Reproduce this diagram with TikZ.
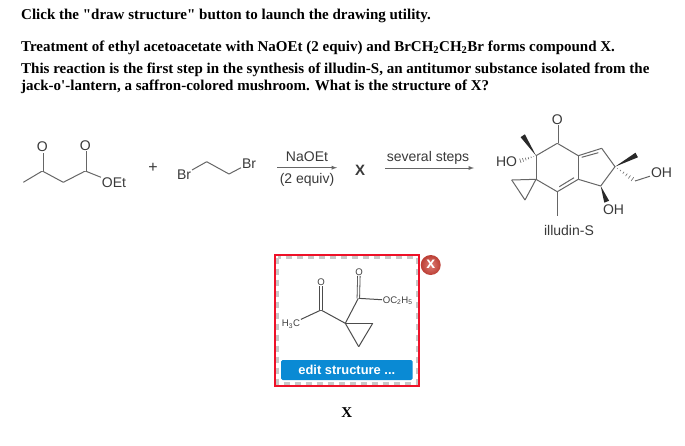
\documentclass[tikz,border=0pt]{standalone}
\usepackage{fontspec}
\setmainfont{Liberation Serif}[Ligatures=TeXOff]
\setsansfont{Liberation Sans}
\usetikzlibrary{calc}
\definecolor{bondGray}{HTML}{666666}
\definecolor{labelGray}{HTML}{3A3A3A}
\definecolor{boxRed}{HTML}{EE1128}
\definecolor{dashGray}{HTML}{C8C8C8}
\definecolor{buttonBlue}{HTML}{0A8AD4}
\definecolor{closeRed}{HTML}{D0453A}
\newcommand{\wedgebond}[2]{%
  \fill[bondGray!40!black] (#1) -- ($(#2)!2.6pt!90:(#1)$) -- ($(#2)!2.6pt!-90:(#1)$) -- cycle;}
\newcommand{\hashbond}[2]{%
  \foreach \t in {0.12,0.27,0.42,0.57,0.72,0.87,1.0}
  {
    \pgfmathsetmacro{\w}{\t*2.6}
    \draw[bondGray,line width=0.6pt] ($(#1)!\t!(#2)!\w pt!90:(#2)$) -- ($(#1)!\t!(#2)!\w pt!-90:(#2)$);
  };}
\begin{document}
\begin{tikzpicture}
[x=1pt,y=-1pt,
  lineDecorate/.style={-,bondGray,line width=1pt},%
  doubleDecorate/.style={-,bondGray,line width=0.8pt,double=white,double distance=1.7pt},%
  darkDecorate/.style={-,black!70,line width=1pt},%
  darkDouble/.style={-,black!70,line width=0.8pt,double=white,double distance=1.7pt},%
  questionText/.style={font=\rmfamily\bfseries\fontsize{15}{16}\selectfont,anchor=base west,inner sep=0pt,black},%
  atomLabel/.style={font=\sffamily\fontsize{14}{15}\selectfont,text=labelGray,inner sep=0.8pt},%
  smallLabel/.style={font=\sffamily\fontsize{9.6}{10}\selectfont,text=black!75,inner sep=0.6pt},%
  reactArrow/.style={-latex,bondGray,line width=0.9pt}]
\useasboundingbox (0,0) rectangle (685,445);
\fill[white] (0,0) rectangle (685,445);
%% question text
\node (line1) at (21,19) [questionText] {Click the "draw structure" button to launch the drawing utility.};
\node (line2) at (21,51.5) [questionText] {Treatment of ethyl acetoacetate with NaOEt (2 equiv) and BrCH\textsubscript{2}CH\textsubscript{2}Br forms compound X.};
\node (line3) at (21,73) [questionText] {This reaction is the first step in the synthesis of illudin-S, an antitumor substance isolated from the};
\node (line4) at (21,90) [questionText] {jack-o'-lantern, a saffron-colored mushroom. What is the structure of X?};
%% atoms of the ester, the dibromide and illudin-S
\foreach \nodename/\x/\y in {a1/23.3/182.3, a2/42.3/171, a4/63.3/182.3, a5/85.3/171,
  b2/206.7/161.7, b3/229/174,
  c1/557.3/143.3, c2/536/155.7, c3/536/179.3, c4/557.3/191.7, c5/578.3/179.3, c6/578.3/155.7,
  c7/601.7/148.3, c8/615/166.7, c9/600.7/186, c10/522.7/135.7, c11/511.7/180, c12/525/200,
  c13/557.3/215.7, c14/636.7/155, c15/635/181, c16/606.7/201.7,
  d1/581.7/157.3, d2/598.3/152.7, d3/559.3/186.7, d4/574/177.7}
{
  \coordinate (\nodename) at (\x,\y);
}
%% labels
\node (a3) at (42.3,147) [atomLabel] {O};
\node (a6) at (85.3,145.5) [atomLabel] {O};
\node (a7) at (114,182.5) [atomLabel] {OEt};
\node (plus) at (153,167.5) [atomLabel,font=\sffamily\fontsize{16}{16}\selectfont] {+};
\node (b1) at (184,174.5) [atomLabel] {Br};
\node (b4) at (249,163.5) [atomLabel] {Br};
\node (naoet) at (307,157) [atomLabel] {NaOEt};
\node (equiv) at (307,180) [atomLabel] {(2 equiv)};
\node (prod) at (360,170) [atomLabel,font=\sffamily\bfseries\fontsize{15}{16}\selectfont] {X};
\node (steps) at (428,157.5) [atomLabel] {several steps};
\node (c17) at (557.3,119.5) [atomLabel] {O};
\node (c18) at (506.5,161.5) [atomLabel] {HO};
\node (c19) at (661.5,172.5) [atomLabel] {OH};
\node (c20) at (613.5,210) [atomLabel] {OH};
\node (name) at (569,230.5) [atomLabel] {illudin-S};
%% arrows
\coordinate (r1) at (277,167.7);
\coordinate (r2) at (337,167.7);
\coordinate (s1) at (385,168);
\coordinate (s2) at (474,168);
\draw[reactArrow] (r1) -- (r2);
\draw[reactArrow] (s1) -- (s2);
%% bonds
\path
\foreach \startnode/\endnode in {
  a1/a2, a2/a4, a4/a5, a5/a7, b1/b2, b2/b3, b3/b4,
  c1/c2, c2/c3, c3/c4, c5/c6, c6/c1, c6/c7, c7/c8, c8/c9, c9/c5, c3/c11, c11/c12, c12/c3,
  c4/c5, c4/c13, c15/c19, d1/d2, d3/d4}
{
  (\startnode) edge[lineDecorate] node {} (\endnode)
};
\path
\foreach \startnode/\endnode in {a2/a3, a5/a6, c1/c17}
{
  (\startnode) edge[doubleDecorate] node {} (\endnode)
};
\wedgebond{c2}{c10}
\wedgebond{c8}{c14}
\wedgebond{c9}{c16}
\hashbond{c8}{c15}
\hashbond{c2}{c18.east}
%% answer box
\coordinate (box1) at (274.7,254.7);
\coordinate (box2) at (419.3,386);
\draw[dashGray,line width=2.4pt,dash pattern=on 6pt off 5pt] (277.5,257.5) rectangle (417,383.5);
\draw[boxRed,line width=2pt] (box1) rectangle (box2);
\node (edit) at (346.8,370) [fill=buttonBlue,rounded corners=1.5pt,minimum width=131.5pt,minimum height=20pt,inner sep=0pt,text=white,font=\sffamily\bfseries\fontsize{12.9}{14}\selectfont] {edit structure ...};
\shade[inner color=closeRed!70!white,outer color=closeRed!90!black] (430.7,265) circle (10pt);
\node (close) at (430.7,264) [inner sep=0pt,text=white,font=\sffamily\bfseries\fontsize{16}{16}\selectfont] {x};
\node (xlabel) at (346.7,412.5) [inner sep=0pt,font=\rmfamily\bfseries\fontsize{15}{16}\selectfont] {X};
%% answer structure
\foreach \nodename/\x/\y in {e2/321/310, e3/345.3/323.3, e4/358.3/298.3, e5/372.7/323.3, e6/358.7/346.7}
{
  \coordinate (\nodename) at (\x,\y);
}
\node (e1) at (291,324) [smallLabel] {H\textsubscript{3}C};
\node (e7) at (321,281.7) [smallLabel] {O};
\node (e8) at (359,271.7) [smallLabel] {O};
\node (e9) at (397.7,300.7) [smallLabel] {OC\textsubscript{2}H\textsubscript{5}};
\path
\foreach \startnode/\endnode in {e1/e2, e2/e3, e3/e4, e4/e9, e3/e5, e5/e6, e6/e3}
{
  (\startnode) edge[darkDecorate] node {} (\endnode)
};
\path
\foreach \startnode/\endnode in {e2/e7, e4/e8}
{
  (\startnode) edge[darkDouble] node {} (\endnode)
};
\end{tikzpicture}
\end{document}
